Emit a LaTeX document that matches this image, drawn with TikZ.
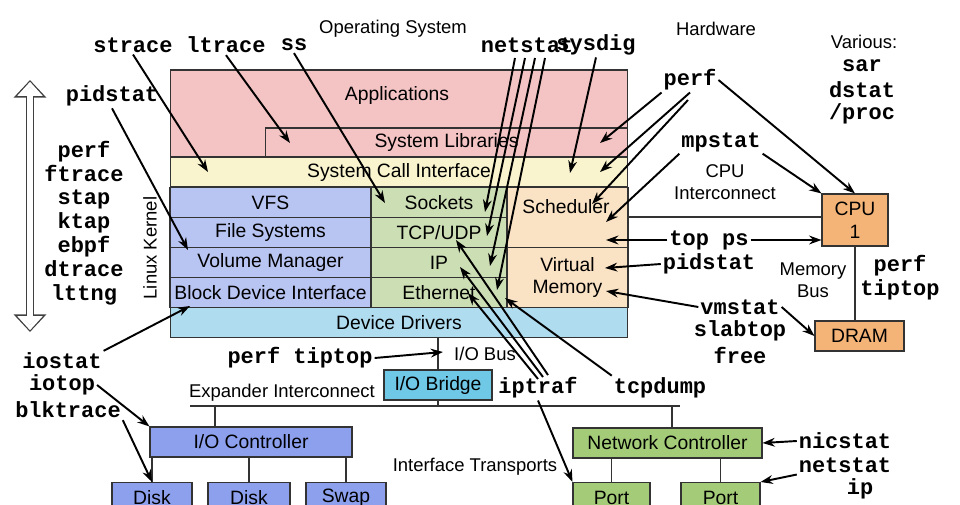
\documentclass[tikz,border=0pt]{standalone}
\usepackage{fontspec}
\setmainfont{Liberation Sans}
\setmonofont{Liberation Mono}
\usetikzlibrary{arrows.meta,positioning}
\definecolor{apppink}{RGB}{244,196,196}
\definecolor{syscall}{RGB}{250,244,206}
\definecolor{fsblue}{RGB}{184,196,242}
\definecolor{netgreen}{RGB}{204,222,180}
\definecolor{sched}{RGB}{250,226,196}
\definecolor{drvblue}{RGB}{176,220,240}
\definecolor{brgblue}{RGB}{110,200,230}
\definecolor{ctrlblue}{RGB}{140,160,238}
\definecolor{nicgreen}{RGB}{164,204,120}
\definecolor{cpuorange}{RGB}{244,180,120}

\begin{document}
\begin{tikzpicture}[
    x=0.02cm, y=-0.02cm,
    layer/.style={draw=black!80, line width=0.6pt, inner sep=0pt, font=\fontsize{11}{13}\selectfont, align=center},
    hwbox/.style={draw=black!80, line width=0.6pt, inner sep=0pt, font=\fontsize{11}{13}\selectfont, align=center},
    tool/.style={font=\fontsize{12.5}{13.6}\selectfont\ttfamily\bfseries, inner sep=1pt, align=center},
    note/.style={font=\fontsize{10.5}{12.5}\selectfont, align=center, inner sep=1pt},
    arrow/.style={-{Stealth[length=7pt,width=5pt]}, line width=1.1pt},
    bus/.style={line width=0.6pt, draw=black!80}
]
    \useasboundingbox (0,0) rectangle (960,504);

    % OS stack
    \node[layer, fill=apppink, minimum width=9.16cm, minimum height=1.74cm] (apps) at (399,113.5) {};
    \node[note, font=\fontsize{11}{13}\selectfont] (appstxt) at (397,96) {Applications};
    \node[layer, fill=apppink, minimum width=7.26cm, minimum height=0.58cm] (libs) at (446.5,142.5) {System Libraries};
    \node[layer, fill=syscall, minimum width=9.16cm, minimum height=0.6cm] (sci) at (399,172) {System Call Interface};
    \node[layer, fill=fsblue, minimum width=4.02cm, minimum height=0.6cm] (vfs) at (270.5,202.5) {VFS};
    \node[layer, fill=fsblue, minimum width=4.02cm, minimum height=0.6cm] (fs) at (270.5,232.5) {File Systems};
    \node[layer, fill=fsblue, minimum width=4.02cm, minimum height=0.6cm] (vol) at (270.5,262.5) {Volume Manager};
    \node[layer, fill=fsblue, minimum width=4.02cm, minimum height=0.6cm] (bdi) at (270.5,292.5) {Block Device Interface};
    \node[layer, fill=netgreen, minimum width=2.72cm, minimum height=0.6cm] (sock) at (439,202.5) {Sockets};
    \node[layer, fill=netgreen, minimum width=2.72cm, minimum height=0.6cm] (tcp) at (439,232.5) {TCP/UDP};
    \node[layer, fill=netgreen, minimum width=2.72cm, minimum height=0.6cm] (ip) at (439,262.5) {IP};
    \node[layer, fill=netgreen, minimum width=2.72cm, minimum height=0.6cm] (eth) at (439,292.5) {Ethernet};
    \node[layer, fill=sched, minimum width=2.42cm, minimum height=1.2cm] (sch) at (567.5,217.5) {};
    \node[note, font=\fontsize{11}{13}\selectfont] (schtxt) at (566,207) {Scheduler};
    \node[layer, fill=sched, minimum width=2.42cm, minimum height=1.2cm] (vm) at (567.5,277.5) {Virtual\\Memory};
    \node[layer, fill=drvblue, minimum width=9.16cm, minimum height=0.6cm] (drv) at (399,322.5) {Device Drivers};
    \node[note, rotate=90] (kern) at (150,248) {Linux Kernel};

    % hardware
    \node[hwbox, fill=cpuorange, minimum width=1.32cm, minimum height=1.04cm] (cpu) at (855,220) {CPU\\1};
    \node[hwbox, fill=cpuorange, minimum width=1.78cm, minimum height=0.6cm] (dram) at (859.5,336) {DRAM};
    \node[hwbox, fill=brgblue, minimum width=2.16cm, minimum height=0.6cm] (bridge) at (438,385) {I/O Bridge};
    \node[hwbox, fill=ctrlblue, minimum width=4.04cm, minimum height=0.6cm] (ioc) at (251,442) {I/O Controller};
    \node[hwbox, fill=nicgreen, minimum width=3.78cm, minimum height=0.6cm] (nic) at (667.5,443) {Network Controller};
    \node[hwbox, fill=ctrlblue, minimum width=1.6cm, minimum height=0.6cm, anchor=north] (disk1) at (152,482) {Disk};
    \node[hwbox, fill=ctrlblue, minimum width=1.64cm, minimum height=0.6cm, anchor=north] (disk2) at (249,482) {Disk};
    \node[hwbox, fill=ctrlblue, minimum width=1.6cm, minimum height=0.6cm, anchor=north] (swap) at (346,482) {Swap};
    \node[hwbox, fill=nicgreen, minimum width=1.54cm, minimum height=0.6cm, anchor=north] (port1) at (611.5,482) {Port};
    \node[hwbox, fill=nicgreen, minimum width=1.58cm, minimum height=0.6cm, anchor=north] (port2) at (720.5,482) {Port};
    \coordinate (expL) at (190,406);
    \coordinate (expR) at (680,406);
    \draw[bus] (expL) -- (expR);
    \draw[bus] (drv.south -| bridge.north) -- (bridge.north);
    \draw[bus] (bridge.south) -- (bridge.south |- expL);
    \draw[bus] (ioc.north -| 215,0) -- (215,406);
    \draw[bus] (nic.north -| 672,0) -- (672,406);
    \draw[bus] (ioc.south -| disk1.north) -- (disk1.north);
    \draw[bus] (ioc.south -| disk2.north) -- (disk2.north);
    \draw[bus] (ioc.south -| swap.north) -- (swap.north);
    \draw[bus] (nic.south -| port1.north) -- (port1.north);
    \draw[bus] (nic.south -| port2.north) -- (port2.north);
    \draw[bus] (sch.east |- 0,217) -- (cpu.west |- 0,217);
    \draw[bus] (cpu.south) -- (cpu.south |- dram.north);

    % plain labels
    \node[note] (os) at (393,29) {Operating System};
    \node[note] (hw) at (716,29) {Hardware};
    \node[note] (various) at (864,42) {Various:};
    \node[note] (cpuic) at (725,182) {CPU\\Interconnect};
    \node[note] (membus) at (813,280) {Memory\\Bus};
    \node[note] (iobus) at (485,354) {I/O Bus};
    \node[note] (expic) at (282,393) {Expander Interconnect};
    \node[note] (iftr) at (475,467) {Interface Transports};

    % tools
    \node[tool] (sar) at (862,66) {sar};
    \node[tool] (dstat) at (862,90) {dstat};
    \node[tool] (proc) at (862,114) {/proc};
    \node[tool] (strace) at (133,45) {strace};
    \node[tool] (ltrace) at (226,45) {ltrace};
    \node[tool] (ss) at (294,45) {ss};
    \node[tool] (netstat) at (527,45) {netstat};
    \node[tool] (sysdig) at (596,45) {sysdig};
    \node[tool] (pidstat) at (112,96) {pidstat};
    \node[tool] (perf) at (690,80) {perf};
    \node[tool] (mpstat) at (721,142) {mpstat};
    \node[tool] (topps) at (709,240) {top ps};
    \node[tool] (pidstat2) at (709,264) {pidstat};
    \node[tool] (perftt) at (900,278) {perf\\tiptop};
    \node[tool] (vmstat) at (740,307) {vmstat};
    \node[tool] (slabtop) at (740,331) {slabtop};
    \node[tool] (free) at (740,355) {free};
    \node[tool] (perfio) at (300,358) {perf tiptop};
    \node[tool] (iptraf) at (538,388) {iptraf};
    \node[tool] (tcpdump) at (660,388) {tcpdump};
    \node[tool] (iostat) at (62,361) {iostat};
    \node[tool] (iotop) at (62,385) {iotop};
    \node[tool] (blktrace) at (68,410) {blktrace};
    \node[tool] (nicstat) at (845,441) {nicstat};
    \node[tool] (netstat2) at (845,465) {netstat};
    \node[tool] (iptool) at (860,489) {ip};
    \node[tool] (tracers) at (84,223) {perf\\ftrace\\stap\\ktap\\ebpf\\dtrace\\lttng};
    \coordinate (spanT) at (30,80);
    \coordinate (spanB) at (30,332);
    \draw[{Triangle[open,length=10pt,width=18pt]}-{Triangle[open,length=10pt,width=18pt]}, line width=5pt, draw=black!75] (spanT) -- (spanB);
    \draw[{Triangle[open,length=8pt,width=14pt]}-{Triangle[open,length=8pt,width=14pt]}, line width=3.6pt, draw=white, shorten >=1pt, shorten <=1pt] (spanT) -- (spanB);

    % tool arrows
    \draw[arrow] (strace.south) -- (208,172);
    \draw[arrow] (ltrace.south) -- (290,143);
    \draw[arrow] (ss.south) -- (385,203);
    \draw[arrow] (515,58) -- (485,212);
    \draw[arrow] (525,58) -- (487,236);
    \draw[arrow] (535,58) -- (490,266);
    \draw[arrow] (545,58) -- (497,290);
    \draw[arrow] (sysdig.south) -- (570,173);
    \draw[arrow] (perf.south west) -- (600,143);
    \draw[arrow] (perf.south) -- (600,172);
    \draw[arrow] (688,100) -- (592,204);
    \draw[arrow] (perf.east) -- (cpu.north);
    \draw[arrow] (mpstat.south west) -- (606,222);
    \draw[arrow] (mpstat.south east) -- (cpu.north west);
    \draw[arrow] (topps.west) -- (606,240);
    \draw[arrow] (topps.east) -- (cpu.west |- topps.east);
    \draw[arrow] (pidstat2.west) -- (605,268);
    \draw[arrow] (vmstat.west) -- (606,291);
    \draw[arrow] (vmstat.east) -- (dram.west);
    \draw[arrow] (pidstat.south) -- (188,250);
    \draw[arrow] (iostat.north east) -- (190,306);
    \draw[arrow] (iotop.east) -- (ioc.north west);
    \draw[arrow] (blktrace.south east) -- (disk1.north);
    \draw[arrow] (perfio.east) -- (443,352);
    \draw[arrow] (548,375) -- (456,240);
    \draw[arrow] (543,377) -- (460,267);
    \draw[arrow] (538,379) -- (468,293);
    \draw[arrow] (iptraf.south) -- (port1.north west);
    \draw[arrow] (tcpdump.north west) -- (505,298);
    \draw[arrow] (nicstat.west) -- (nic.east);
    \draw[arrow] (netstat2.south west) -- (port2.north east);
\end{tikzpicture}
\end{document}
